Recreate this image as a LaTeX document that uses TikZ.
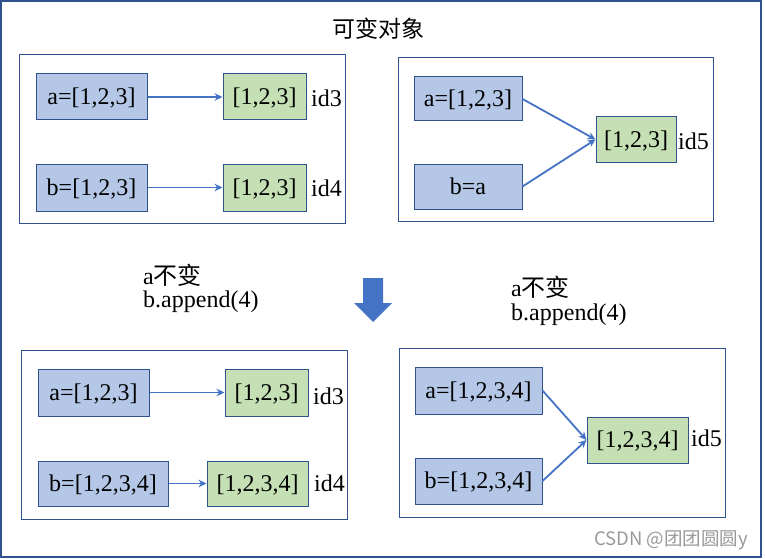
\documentclass[tikz,border=0pt]{standalone}
\usepackage{fontspec}
\setmainfont{Liberation Serif}
\newfontfamily\cjk{Noto Sans CJK SC}
\usetikzlibrary{arrows.meta}
\definecolor{bd}{HTML}{2F528F}
\definecolor{bluefill}{HTML}{B4C7E7}
\definecolor{greenfill}{HTML}{C5E0B4}
\definecolor{arr}{HTML}{4472C4}
\begin{document}
\begin{tikzpicture}[x=1pt,y=-1pt,
  every node/.style={font=\fontsize{24}{28}\selectfont, inner sep=0pt},
  frame/.style={draw=bd, line width=1pt, fill=white},
  varbox/.style={draw=bd, line width=1pt, fill=bluefill, text depth=1pt},
  objbox/.style={draw=bd, line width=1pt, fill=greenfill, text depth=1pt},
  idlabel/.style={anchor=west},
  note/.style={anchor=west},
  link/.style={draw=arr, line width=1.8pt, -{Stealth[length=8pt,width=7.5pt]}}]
\useasboundingbox (0,0) rectangle (765,559);
\node[draw=bd, line width=1.5pt, minimum width=760pt, minimum height=556pt] (outer) at (381,279) {};
\node[font=\fontsize{23}{27}\selectfont] (title) at (378,29) {\cjk 可变对象};
% top-left
\node[frame, minimum width=326pt, minimum height=168pt] (tlf) at (182,139) {};
\node[varbox, minimum width=111pt, minimum height=46pt] (tla) at (91.5,97) {a=[1,2,3]};
\node[objbox, minimum width=83pt, minimum height=46pt] (tlx) at (264.5,97) {[1,2,3]};
\node[varbox, minimum width=111pt, minimum height=47pt] (tlb) at (91.5,187.5) {b=[1,2,3]};
\node[objbox, minimum width=83pt, minimum height=47pt] (tly) at (264.5,187.5) {[1,2,3]};
\node[idlabel] (tlid3) at (311,98) {id3};
\node[idlabel] (tlid4) at (311,188) {id4};
\draw[link] (tla) -- (tlx);
\draw[link] (tlb) -- (tly);
% top-right
\node[frame, minimum width=315pt, minimum height=163pt] (trf) at (555.5,139.5) {};
\node[varbox, minimum width=108pt, minimum height=44pt] (tra) at (468,99) {a=[1,2,3]};
\node[varbox, minimum width=108pt, minimum height=45pt] (trb) at (468,186.5) {b=a};
\node[objbox, minimum width=80pt, minimum height=45pt] (trx) at (636,139.5) {[1,2,3]};
\node[idlabel] (trid5) at (678,141) {id5};
\draw[link] (tra.east) -- (trx.west);
\draw[link] (trb.east) -- (trx.west);
% labels and arrow
\node[note] (l1) at (143,275) {a{\cjk 不变}};
\node[note] (l2) at (143,302) {b.append(4)};
\node[note] (r1) at (511,287) {a{\cjk 不变}};
\node[note] (r2) at (511,315) {b.append(4)};
\fill[arr] (363,278) -- (383,278) -- (383,303) -- (392,303) -- (373,322) -- (354,303) -- (363,303) -- cycle;
% bottom-left
\node[frame, minimum width=326pt, minimum height=169pt] (blf) at (184,434.5) {};
\node[varbox, minimum width=111pt, minimum height=47pt] (bla) at (93.5,392.5) {a=[1,2,3]};
\node[objbox, minimum width=83pt, minimum height=47pt] (blx) at (266.5,392.5) {[1,2,3]};
\node[varbox, minimum width=130pt, minimum height=45pt] (blb) at (103,483.5) {b=[1,2,3,4]};
\node[objbox, minimum width=101pt, minimum height=45pt] (bly) at (257.5,483.5) {[1,2,3,4]};
\node[idlabel] (blid3) at (313,396) {id3};
\node[idlabel] (blid4) at (314,483) {id4};
\draw[link] (bla) -- (blx);
\draw[link] (blb) -- (bly);
% bottom-right
\node[frame, minimum width=326pt, minimum height=169pt] (brf) at (562,432.5) {};
\node[varbox, minimum width=127pt, minimum height=47pt] (bra) at (478.5,390.5) {a=[1,2,3,4]};
\node[varbox, minimum width=127pt, minimum height=46pt] (brb) at (478.5,481) {b=[1,2,3,4]};
\node[objbox, minimum width=101pt, minimum height=46pt] (brx) at (637.5,440) {[1,2,3,4]};
\node[idlabel] (brid5) at (691,438) {id5};
\draw[link] (bra.east) -- (brx.west);
\draw[link] (brb.east) -- (brx.west);
% watermark
\node[font=\cjk\fontsize{18.5}{22}\selectfont, text=black!40] (wm) at (671,540) {CSDN @团团圆圆y};
\end{tikzpicture}
\end{document}
